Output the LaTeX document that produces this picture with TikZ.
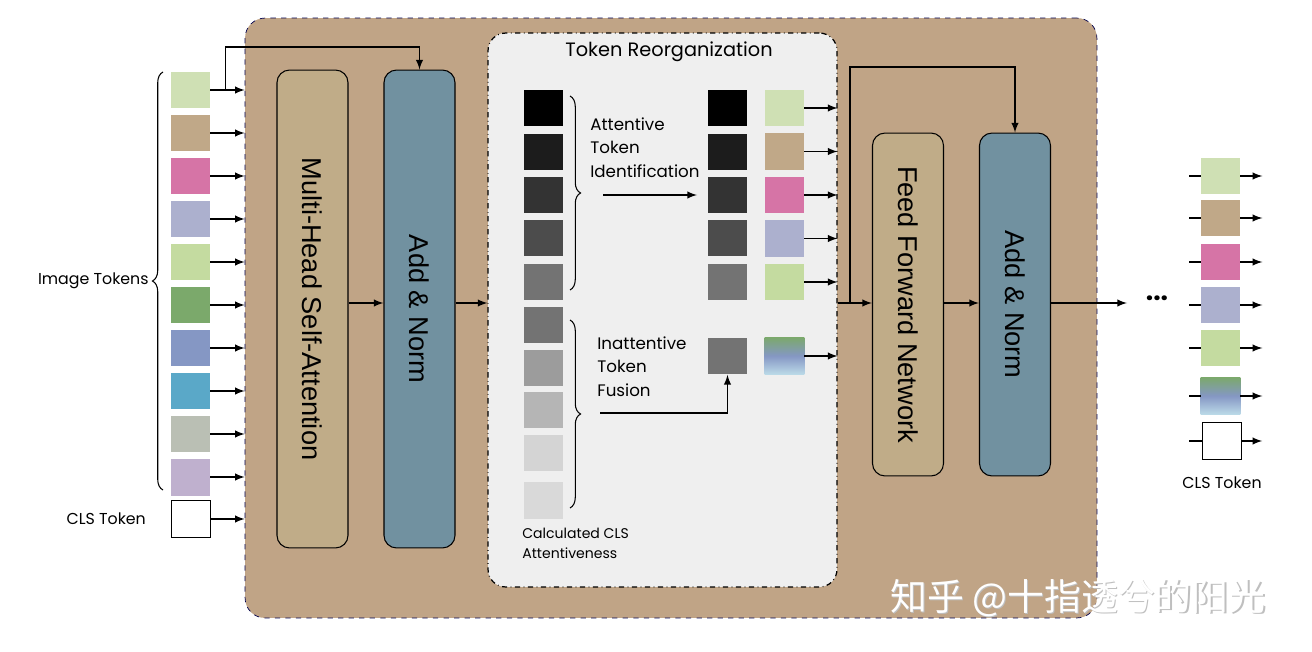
\documentclass[tikz,border=0pt]{standalone}
\usepackage{fontspec}
\setmainfont{Poppins}
\newfontfamily\boxfont{Liberation Sans}
\newfontfamily\cjk{Noto Sans CJK SC}
\usetikzlibrary{positioning,decorations.pathreplacing,calc}

\definecolor{bgtan}{HTML}{C0A486}
\definecolor{blocktan}{HTML}{C0AC88}
\definecolor{blockblue}{HTML}{7191A0}
\definecolor{reorgbg}{HTML}{EFEFEF}
\definecolor{tkA}{HTML}{CFE0B4}
\definecolor{tkB}{HTML}{C0A888}
\definecolor{tkC}{HTML}{D674A6}
\definecolor{tkD}{HTML}{ACB0CE}
\definecolor{tkE}{HTML}{C4DBA0}
\definecolor{tkF}{HTML}{7BA96B}
\definecolor{tkG}{HTML}{8597C4}
\definecolor{tkH}{HTML}{5AA8C8}
\definecolor{tkI}{HTML}{BABFB4}
\definecolor{tkJ}{HTML}{BFB0CE}

\tikzset{
  tok/.style={minimum width=0.78cm, minimum height=0.74cm, inner sep=0pt, fill=#1},
  block/.style={draw, rounded corners=0.25cm, line width=0.6pt, minimum width=1.42cm,
    inner sep=0pt, fill=#1},
  blocktext/.style={rotate=-90, font=\boxfont\fontsize{15.5}{18}\selectfont},
  arr/.style={-latex, line width=0.9pt},
  lbl/.style={font=\fontsize{9}{11}\selectfont, inner sep=0pt},
}

\begin{document}
\begin{tikzpicture}[x=0.02cm, y=-0.02cm]
	\useasboundingbox (0,0) rectangle (1312,652);
	
	% outer encoder block
	\node[draw=blue!30!black, dashed, line width=0.4pt, fill=bgtan, rounded corners=0.4cm,
	  minimum width=17.04cm, minimum height=12cm] (enc) at (671,318) {};
	
	% token reorganization panel
	\node[draw, dash dot, line width=0.7pt, fill=reorgbg, rounded corners=0.35cm,
	  minimum width=6.98cm, minimum height=11.08cm] (reorg) at (662.5,310) {};
	\node[font=\fontsize{11}{12}\selectfont] (title) at (669,52) {Token Reorganization};
	
	% input tokens
	\foreach \c [count=\i] in {tkA,tkB,tkC,tkD,tkE,tkF,tkG,tkH,tkI,tkJ} {
		\node[tok=\c] (t\i) at (190.5,{90+43*(\i-1)}) {};
		\draw[arr] (t\i.east) -- (t\i.east -| enc.west);
	}
	\node[tok=white, draw, line width=0.8pt] (cls) at (191,519) {};
	\draw[arr] (cls.east) -- (cls.east -| enc.west);
	\draw[decorate, decoration={brace, amplitude=6pt}, line width=0.6pt]
	  (163,490) -- (163,72) coordinate[midway] (imgbrace);
	\node[lbl, left=8pt of imgbrace] (imglbl) {Image Tokens};
	\node[lbl, left=14pt of cls] (clslbl) {CLS Token};
	
	% attention + add & norm
	\node[block=blocktan, minimum height=9.56cm] (mhsa) at (312.5,309) {};
	\node[blocktext] at (mhsa) {Multi-Head Self-Attention};
	\node[block=blockblue, minimum height=9.56cm] (an1) at (419.5,309) {};
	\node[blocktext] at (an1) {Add \& Norm};
	\draw[arr] (t1.east) -- ++(15,0) |- (225,47) -| (an1.north);
	\draw[arr] (mhsa.east |- 0,303) -- (an1.west |- 0,303);
	\draw[arr] (an1.east |- 0,303) -- (reorg.west |- 0,303);
	
	% sorted attentiveness column
	\foreach \g/\y [count=\i] in {100/108,89/152,80/195,70/238,55/282,55/325,39/368,29/410,17/453,15/500} {
		\node[tok=black!\g] (s\i) at (543.5,\y) {};
	}
	\node[lbl, font=\fontsize{8}{11}\selectfont, align=left, anchor=north west] (calc) at (522,528)
	  {Calculated CLS\\Attentiveness};
	
	% attentive branch
	\draw[decorate, decoration={brace, amplitude=6pt}, line width=0.6pt]
	  (570,96) -- (570,290) coordinate[midway] (attbrace);
	\node[lbl, align=left, anchor=north west, font=\fontsize{9.5}{13.5}\selectfont] (attlbl) at (590,117)
	  {Attentive\\Token\\Identification};
	\foreach \g/\y [count=\i] in {100/108,89/152,80/195,70/238,55/282} {
		\node[tok=black!\g] (a\i) at (727.5,\y) {};
	}
	\coordinate (attstart) at (603,195);
	\draw[arr] (attstart) -- (a3.west -| 697,0);
	\foreach \c [count=\i] in {tkA,tkB,tkC,tkD,tkE} {
		\node[tok=\c] (k\i) at (784.5,{108+43.5*(\i-1)}) {};
		\draw[arr] (k\i.east) -- (k\i.east -| reorg.east);
	}
	
	% inattentive branch
	\draw[decorate, decoration={brace, amplitude=6pt}, line width=0.6pt]
	  (570,320) -- (570,508) coordinate[midway] (inbrace);
	\node[lbl, align=left, anchor=north west, font=\fontsize{9.5}{13.5}\selectfont] (inlbl) at (597,336)
	  {Inattentive\\Token\\Fusion};
	\node[tok=black!55] (fused) at (727.5,356) {};
	\coordinate (instart) at (600,413);
	\draw[arr] (instart) -| (fused.south);
	\node[tok=white] (fusedc) at (784.5,356) {};
	\shade[top color=tkF, bottom color=tkH!40!white, middle color=tkG]
	  (fusedc.north west) rectangle (fusedc.south east);
	\draw[arr] (fusedc.east) -- (fusedc.east -| reorg.east);
	
	% feed forward + add & norm
	\node[block=blocktan, minimum height=6.86cm] (ffn) at (908,304.5) {};
	\node[blocktext] at (ffn) {Feed Forward Network};
	\node[block=blockblue, minimum height=6.86cm] (an2) at (1015,304.5) {};
	\node[blocktext] at (an2) {Add \& Norm};
	\draw[arr] (reorg.east |- 0,303) -- (ffn.west |- 0,303);
	\draw[arr] (850,303) |- (1015,67) -- (an2.north);
	\draw[arr] (ffn.east |- 0,303) -- (an2.west |- 0,303);
	\coordinate (outend) at (1127,303);
	\draw[arr] (an2.east |- 0,303) -- (outend);
	\node[font=\bfseries\fontsize{15}{15}\selectfont] (dots) at (1157,298) {...};
	
	% output tokens
	\foreach \c/\y [count=\i] in {tkA/176,tkB/218,tkC/262,tkD/305,tkE/348} {
		\node[tok=\c] (o\i) at (1220.5,\y) {};
		\draw[line width=0.8pt] (1189,\y) -- (o\i.west);
		\draw[arr] (o\i.east) -- ++(22,0);
	}
	\node[tok=white] (o6) at (1220.5,396) {};
	\shade[top color=tkF, bottom color=tkH!40!white, middle color=tkG]
	  (o6.north west) rectangle (o6.south east);
	\draw[line width=0.8pt] (1189,396) -- (o6.west);
	\draw[arr] (o6.east) -- ++(22,0);
	\node[tok=white, draw, line width=0.8pt] (ocls) at (1222,441) {};
	\draw[line width=0.8pt] (1189,441) -- (ocls.west);
	\draw[arr] (ocls.east) -- ++(20,0);
	\node[lbl, below=9pt of ocls] (oclslbl) {CLS Token};
	
	% watermark
	\node[text=black!25, font=\cjk\fontsize{21}{24}\selectfont] at (1079.5,599.5) {知乎 @十指透兮的阳光};
	\node[text=white, font=\cjk\fontsize{21}{24}\selectfont] (wm) at (1078,598) {知乎 @十指透兮的阳光};
	
\end{tikzpicture}
\end{document}
